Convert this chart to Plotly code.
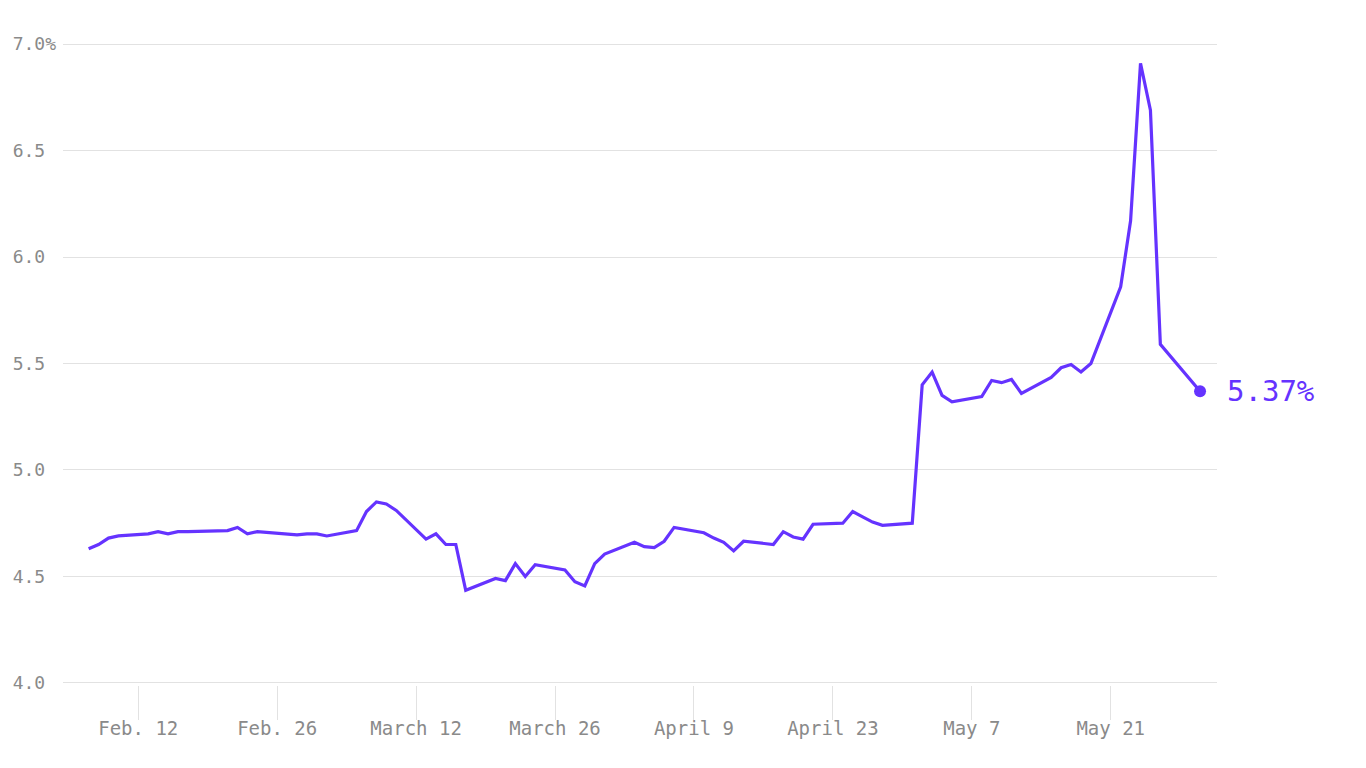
import plotly.graph_objects as go

# Style settings
COLOR_LINE = "#6533FF"
COLOR_GRID = "#E2E2E2"
COLOR_TICK = "#8A8A8A"
FONT_MONO = "DejaVu Sans Mono"

# Daily yield readings (business days, 2023)
dates = [
    "2023-02-07", "2023-02-08", "2023-02-09", "2023-02-10",
    "2023-02-13", "2023-02-14", "2023-02-15", "2023-02-16", "2023-02-17",
    "2023-02-21", "2023-02-22", "2023-02-23", "2023-02-24",
    "2023-02-27", "2023-02-28", "2023-03-01", "2023-03-02", "2023-03-03",
    "2023-03-06", "2023-03-07", "2023-03-08", "2023-03-09", "2023-03-10",
    "2023-03-13", "2023-03-14", "2023-03-15", "2023-03-16", "2023-03-17",
    "2023-03-20", "2023-03-21", "2023-03-22", "2023-03-23", "2023-03-24",
    "2023-03-27", "2023-03-28", "2023-03-29", "2023-03-30", "2023-03-31",
    "2023-04-03", "2023-04-04", "2023-04-05", "2023-04-06", "2023-04-07",
    "2023-04-10", "2023-04-11", "2023-04-12", "2023-04-13", "2023-04-14",
    "2023-04-17", "2023-04-18", "2023-04-19", "2023-04-20", "2023-04-21",
    "2023-04-24", "2023-04-25", "2023-04-26", "2023-04-27", "2023-04-28",
    "2023-05-01", "2023-05-02", "2023-05-03", "2023-05-04", "2023-05-05",
    "2023-05-08", "2023-05-09", "2023-05-10", "2023-05-11", "2023-05-12",
    "2023-05-15", "2023-05-16", "2023-05-17", "2023-05-18", "2023-05-19",
    "2023-05-22", "2023-05-23", "2023-05-24", "2023-05-25", "2023-05-26",
    "2023-05-30",
]
values = [
    4.63, 4.65, 4.68, 4.69,
    4.70, 4.71, 4.70, 4.71, 4.71,
    4.715, 4.73, 4.70, 4.71,
    4.70, 4.695, 4.70, 4.70, 4.69,
    4.715, 4.805, 4.85, 4.84, 4.81,
    4.675, 4.70, 4.65, 4.65, 4.435,
    4.49, 4.48, 4.56, 4.50, 4.555,
    4.53, 4.475, 4.455, 4.56, 4.605,
    4.66, 4.64, 4.635, 4.665, 4.73,
    4.705, 4.68, 4.66, 4.62, 4.665,
    4.65, 4.71, 4.685, 4.675, 4.745,
    4.75, 4.805, 4.78, 4.755, 4.74,
    4.75, 5.40, 5.46, 5.35, 5.32,
    5.345, 5.42, 5.41, 5.425, 5.36,
    5.435, 5.48, 5.495, 5.46, 5.50,
    5.86, 6.17, 6.91, 6.69, 5.59,
    5.37,
]

x_tickvals = ["2023-02-12", "2023-02-26", "2023-03-12", "2023-03-26",
              "2023-04-09", "2023-04-23", "2023-05-07", "2023-05-21"]
x_ticktext = ["Feb. 12", "Feb. 26", "March 12", "March 26",
              "April 9", "April 23", "May 7", "May 21"]

y_tickvals = [4.0, 4.5, 5.0, 5.5, 6.0, 6.5, 7.0]
y_ticktext = ["4.0", "4.5", "5.0", "5.5", "6.0", "6.5", "7.0%"]
# pad labels so they line up on the left (monospace font)
y_ticktext = [t + "\u00a0" * (4 - len(t)) for t in y_ticktext]

fig = go.Figure()
fig.add_trace(go.Scatter(
    x=dates, y=values,
    mode="lines",
    line=dict(color=COLOR_LINE, width=3.2),
    hoverinfo="skip",
))
# End-point dot
fig.add_trace(go.Scatter(
    x=[dates[-1]], y=[values[-1]],
    mode="markers",
    marker=dict(color=COLOR_LINE, size=12),
    hoverinfo="skip",
))
fig.add_annotation(
    x=dates[-1], y=values[-1],
    text=f"{values[-1]:.2f}%",
    showarrow=False,
    xanchor="left", yanchor="middle",
    xshift=25,
    font=dict(family=FONT_MONO, size=29, color=COLOR_LINE),
)

# page body adds an 8px margin, so the figure is a bit smaller than the window
fig.update_layout(
    width=1350, height=752,
    template="plotly_white",
    showlegend=False,
    paper_bgcolor="white",
    plot_bgcolor="white",
    margin=dict(l=55, r=141, t=34, b=75),
    font=dict(family=FONT_MONO, size=18, color=COLOR_TICK),
    xaxis=dict(
        range=["2023-02-04 10:00", "2023-05-31 17:00"],
        tickvals=x_tickvals,
        ticktext=x_ticktext,
        showgrid=False,
        zeroline=False,
        showline=False,
        automargin=False,
        ticks="outside",
        ticklen=34,
        tickcolor=COLOR_GRID,
        tickwidth=1,
        ticklabelstandoff=-8,
        tickfont=dict(family=FONT_MONO, size=19, color=COLOR_TICK),
    ),
    yaxis=dict(
        range=[3.99, 7.01],
        tickvals=y_tickvals,
        ticktext=y_ticktext,
        showgrid=True,
        gridcolor=COLOR_GRID,
        gridwidth=1,
        zeroline=False,
        showline=False,
        automargin=False,
        ticks="",
        ticklabelstandoff=6,
        tickfont=dict(family=FONT_MONO, size=18, color=COLOR_TICK),
    ),
)

fig.write_html("out.html")
